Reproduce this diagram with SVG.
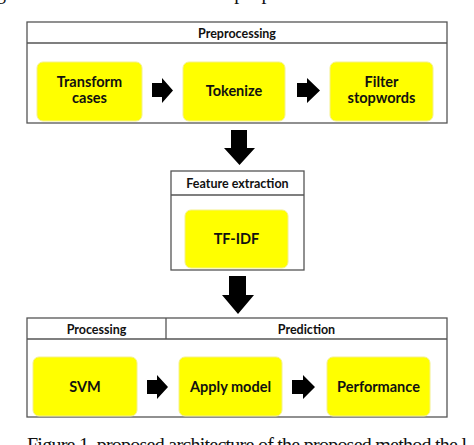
<svg xmlns="http://www.w3.org/2000/svg" width="474" height="445" viewBox="0 0 474 445">
<style>
.frame{fill:#fff;stroke:#555;stroke-width:1.3}
.step{fill:#ffff00;stroke:#f4f08a;stroke-width:1}
.hdr{font-family:Lato,"Liberation Sans",sans-serif;font-weight:bold;font-size:12.5px;fill:#111;text-anchor:middle}
.lbl{font-family:Lato,"Liberation Sans",sans-serif;font-weight:bold;font-size:14.5px;fill:#111;text-anchor:middle}
.arr{fill:#000}
.cap{font-family:"Liberation Serif",serif;font-size:20px;fill:#111}
</style>
<rect width="474" height="445" fill="#fff"/>
<text class="cap" x="-4" y="-1" textLength="380">g   Overall architecture of the proposed method</text>

<g id="preprocessing">
<rect class="frame" x="27" y="22" width="420" height="101"/>
<line class="frame" x1="27" y1="43" x2="447" y2="43"/>
<text class="hdr" x="237" y="38">Preprocessing</text>
</g>
<g id="transform-cases">
<rect class="step" x="37" y="62" width="105" height="59" rx="6"/>
<text class="lbl" x="89.5" y="87">Transform</text>
<text class="lbl" x="89.5" y="103">cases</text>
</g>
<g id="tokenize">
<rect class="step" x="183" y="62" width="102" height="59" rx="6"/>
<text class="lbl" x="234" y="96">Tokenize</text>
</g>
<g id="filter-stopwords">
<rect class="step" x="330" y="62" width="103" height="59" rx="6"/>
<text class="lbl" x="381.5" y="87">Filter</text>
<text class="lbl" x="381.5" y="103">stopwords</text>
</g>

<g id="feature-extraction">
<rect class="frame" x="171" y="171" width="133" height="99"/>
<line class="frame" x1="171" y1="195" x2="304" y2="195"/>
<text class="hdr" x="237.5" y="188">Feature extraction</text>
</g>
<g id="tf-idf">
<rect class="step" x="185" y="210" width="103" height="58" rx="6"/>
<text class="lbl" x="236.5" y="244">TF-IDF</text>
</g>

<g id="processing-prediction">
<rect class="frame" x="27" y="318" width="420" height="99"/>
<line class="frame" x1="27" y1="339" x2="447" y2="339"/>
<line class="frame" x1="166" y1="318" x2="166" y2="339"/>
<text class="hdr" x="96.5" y="334">Processing</text>
<text class="hdr" x="306.5" y="334">Prediction</text>
</g>
<g id="svm">
<rect class="step" x="33" y="357" width="104" height="59" rx="6"/>
<text class="lbl" x="85" y="392">SVM</text>
</g>
<g id="apply-model">
<rect class="step" x="179" y="357" width="103" height="59" rx="6"/>
<text class="lbl" x="230.5" y="392">Apply model</text>
</g>
<g id="performance">
<rect class="step" x="327" y="357" width="103" height="59" rx="6"/>
<text class="lbl" x="378.5" y="392">Performance</text>
</g>

<g id="connectors">
<polygon class="arr" points="152,83 162,83 162,78 173,90.5 162,103 162,97 152,97"/>
<polygon class="arr" points="297,83 307,83 307,78 320,90.5 307,103 307,97 297,97"/>
<polygon class="arr" points="231,130 247,130 247,148 255,148 239.5,165 224,148 231,148"/>
<polygon class="arr" points="229,276 246,276 246,295 254,295 238,314 222,295 229,295"/>
<polygon class="arr" points="147,380 157,380 157,375 168,387 157,399 157,394 147,394"/>
<polygon class="arr" points="292,380 303,380 303,375 315,387 303,399 303,394 292,394"/>
</g>

<text class="cap" x="27" y="452" textLength="440">Figure 1.  proposed architecture of the proposed method the l</text>
</svg>
